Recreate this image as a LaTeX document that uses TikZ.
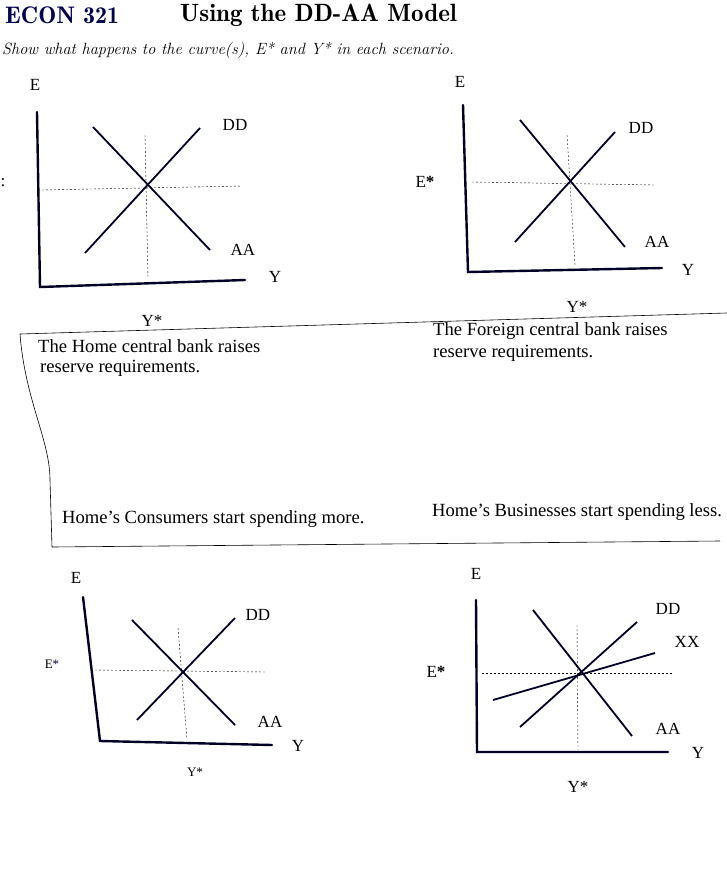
\documentclass[tikz,border=0pt]{standalone}
\usepackage{fontspec}
\setmainfont{Liberation Serif}
\begin{document}
\begin{tikzpicture}[x=1pt,y=-1pt,
 ax/.style={line width=2.4pt,color=black!85!blue,line cap=round},
 cv/.style={line width=1.8pt,color=black!85!blue},
 dsh/.style={line width=0.4pt,dash pattern=on 2pt off 2pt},
 lb/.style={font=\fontsize{17}{19}\selectfont,inner sep=0pt},
 tx/.style={font=\fontsize{18.6}{21}\selectfont,inner sep=0pt,anchor=west}]
\useasboundingbox (0,0) rectangle (727,870);
% header
\node[anchor=west,inner sep=0pt,font=\fontfamily{lmr}\bfseries\fontsize{24}{25}\selectfont,text=black!70!blue] (t1) at (5,15) {ECON 321};
\node[anchor=west,inner sep=0pt,font=\fontfamily{lmr}\bfseries\fontsize{25}{27}\selectfont] (t2) at (180,15) {Using the DD-AA Model};
\node[anchor=west,inner sep=0pt,font=\fontfamily{lmr}\itshape\fontsize{16.3}{18}\selectfont] (st) at (2,50) {Show what happens to the curve(s), E* and Y* in each scenario.};
\node[lb] (dot) at (3,183) {:};
% graph 1
\coordinate (a1t) at (37,112); \coordinate (a1o) at (40,287); \coordinate (a1r) at (245,280);
\draw[ax] (a1t) -- (a1o) -- (a1r);
\coordinate (d1a) at (85,253); \coordinate (d1b) at (200,128);
\coordinate (aa1a) at (93,127); \coordinate (aa1b) at (210,250);
\draw[cv] (d1a) -- (d1b); \draw[cv] (aa1a) -- (aa1b);
\coordinate (h1a) at (42,190); \coordinate (h1b) at (242,186);
\coordinate (v1a) at (145,135); \coordinate (v1b) at (148,278);
\draw[dsh] (h1a) -- (h1b); \draw[dsh] (v1a) -- (v1b);
\node[lb] (e1) at (35,85) {E};
\node[lb] (dd1) at (235,125) {DD};
\node[lb] (aal1) at (243,250) {AA};
\node[lb] (y1) at (275,277) {Y};
\node[lb] (ys1) at (152,321) {Y*};
% graph 2
\coordinate (a2t) at (463,105); \coordinate (a2o) at (468,272); \coordinate (a2r) at (662,268);
\draw[ax] (a2t) -- (a2o) -- (a2r);
\coordinate (d2a) at (515,242); \coordinate (d2b) at (615,132);
\coordinate (aa2a) at (520,120); \coordinate (aa2b) at (625,247);
\draw[cv] (d2a) -- (d2b); \draw[cv] (aa2a) -- (aa2b);
\coordinate (h2a) at (472,182); \coordinate (h2b) at (655,185);
\coordinate (v2a) at (567,135); \coordinate (v2b) at (575,265);
\draw[dsh] (h2a) -- (h2b); \draw[dsh] (v2a) -- (v2b);
\node[lb] (e2) at (460,82) {E};
\node[lb] (es2) at (425,182) {E\textbf{*}};
\node[lb] (dd2) at (641,128) {DD};
\node[lb] (aal2) at (657,242) {AA};
\node[lb] (y2) at (688,270) {Y};
\node[lb] (ys2) at (577,307) {Y*};
% box
\coordinate (b1) at (20,334); \coordinate (b2) at (727,313);
\coordinate (b3) at (52,547); \coordinate (b4) at (720,541);
\draw[line width=0.6pt] (b2) -- (b1) .. controls (25,400) and (50,440) .. (50,480) -- (b3) -- (b4);
\node[tx] (s1a) at (38,346) {The Home central bank raises};
\node[tx] (s1b) at (40,368) {reserve requirements.};
\node[tx] (s2a) at (433,331) {The Foreign central bank raises};
\node[tx] (s2b) at (433,353) {reserve requirements.};
\node[tx] (s3) at (62,519) {Home’s Consumers start spending more.};
\node[tx] (s4) at (432,512) {Home’s Businesses start spending less.};
% graph 3
\coordinate (a3t) at (83,597); \coordinate (a3o) at (100,741); \coordinate (a3r) at (272,745);
\draw[ax] (a3t) -- (a3o) -- (a3r);
\coordinate (d3a) at (137,720); \coordinate (d3b) at (235,618);
\coordinate (aa3a) at (132,620); \coordinate (aa3b) at (235,725);
\draw[cv] (d3a) -- (d3b); \draw[cv] (aa3a) -- (aa3b);
\coordinate (h3a) at (95,670); \coordinate (h3b) at (265,672);
\coordinate (v3a) at (178,628); \coordinate (v3b) at (187,740);
\draw[dsh] (h3a) -- (h3b); \draw[dsh] (v3a) -- (v3b);
\node[lb] (e3) at (76,578) {E};
\node[lb,font=\fontsize{13}{14}\selectfont] (es3) at (52,664) {E\textcolor{black!70!blue}{*}};
\node[lb] (dd3) at (258,615) {DD};
\node[lb] (aal3) at (270,722) {AA};
\node[lb] (y3) at (298,746) {Y};
\node[lb,font=\fontsize{13}{14}\selectfont] (ys3) at (195,772) {Y*};
% graph 4
\coordinate (a4t) at (476,600); \coordinate (a4o) at (477,752); \coordinate (a4r) at (668,752);
\draw[ax] (a4t) -- (a4o) -- (a4r);
\coordinate (d4a) at (520,727); \coordinate (d4b) at (637,622);
\coordinate (aa4a) at (533,610); \coordinate (aa4b) at (632,736);
\coordinate (x4a) at (493,700); \coordinate (x4b) at (655,653);
\draw[cv] (d4a) -- (d4b); \draw[cv] (aa4a) -- (aa4b); \draw[cv] (x4a) -- (x4b);
\coordinate (h4a) at (482,673); \coordinate (h4b) at (672,673);
\coordinate (v4a) at (577,625); \coordinate (v4b) at (578,750);
\draw[dsh] (h4a) -- (h4b); \draw[dsh] (v4a) -- (v4b);
\node[lb] (e4) at (476,574) {E};
\node[lb] (es4) at (436,672) {E\textbf{*}};
\node[lb] (dd4) at (668,609) {DD};
\node[lb] (xx4) at (687,642) {XX};
\node[lb] (aal4) at (668,729) {AA};
\node[lb] (y4) at (698,753) {Y};
\node[lb] (ys4) at (578,787) {Y*};
\end{tikzpicture}
\end{document}
